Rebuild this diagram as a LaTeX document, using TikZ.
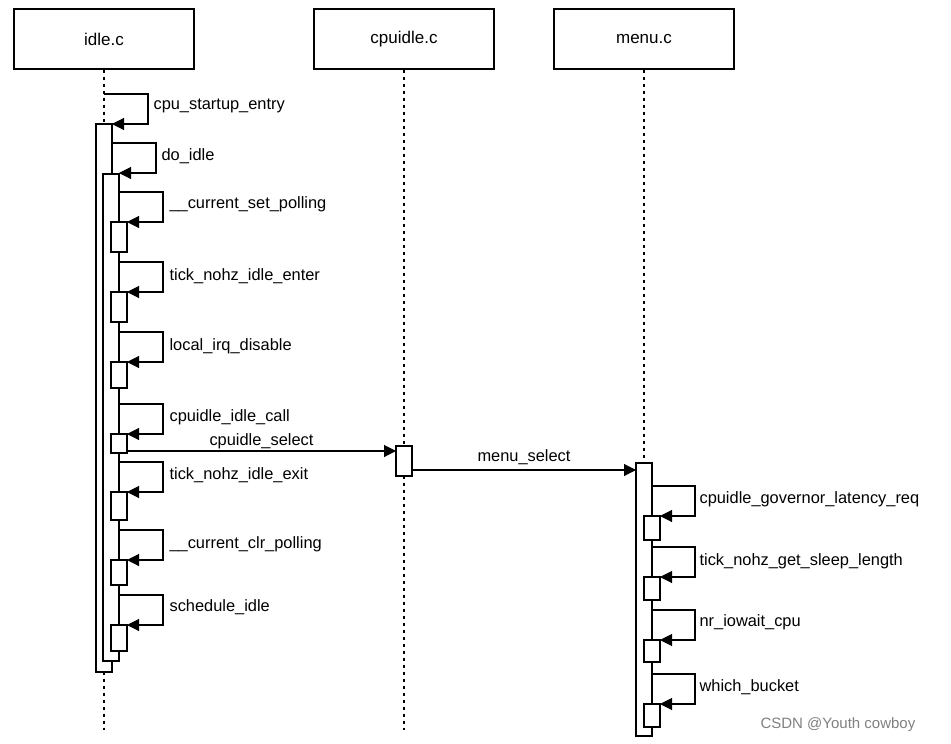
\documentclass[tikz,border=0pt]{standalone}
\usepackage{fontspec}
\setmainfont{Liberation Sans}
\usetikzlibrary{arrows.meta}
\begin{document}
\begin{tikzpicture}[x=1pt,y=-1pt,line width=1.1pt,
  hdr/.style={draw,minimum width=180pt,minimum height=60pt,inner sep=0pt,font=\fontsize{17}{20}\selectfont},
  bar/.style={draw,fill=white},
  life/.style={dash pattern=on 3pt off 4pt},
  msg/.style={-{Triangle[length=12pt,width=12pt]}},
  lbl/.style={anchor=west,inner sep=0pt,font=\fontsize{16.4}{19}\selectfont},
  clbl/.style={anchor=south,inner sep=1pt,font=\fontsize{16.4}{19}\selectfont}]
\useasboundingbox (0,0) rectangle (951,744);
\node[hdr] (h1) at (104,39) {idle.c};
\node[hdr] (h2) at (404,39) {cpuidle.c};
\node[hdr] (h3) at (644,39) {menu.c};
\draw[life] (h1.south) -- (104,730);
\draw[life] (h2.south) -- (404,730);
\draw[life] (h3.south) -- (644,736);
% idle bars
\draw[bar] (96,124) rectangle (112,672);
\draw[bar] (103,174) rectangle (119,661);
\coordinate (a0) at (112,124);
\draw[msg] (104,94) -| (148,124) -- (a0);
\node[lbl] (l0) at (153,106) {cpu\_startup\_entry};
\coordinate (a1) at (119,173);
\draw[msg] (112,143) -| (156,173) -- (a1);
\node[lbl] (l1) at (161,156) {do\_idle};
\foreach \t/\b/\ly/\txt [count=\i] in {222/252/204/\_\_current\_set\_polling, 292/322/276/tick\_nohz\_idle\_enter, 362/388/346/local\_irq\_disable, 434/453/417/cpuidle\_idle\_call, 492/520/475/tick\_nohz\_idle\_exit, 560/585/544/\_\_current\_clr\_polling, 625/651/607/schedule\_idle}{
  \draw[bar] (111,\t) rectangle (127,\b);
  \coordinate (s\i) at (127,\t);
  \draw[msg] (119,\t-30) -| (163,\t) -- (s\i);
  \node[lbl] (sl\i) at (169,\ly) {\txt};
}
% cpuidle
\draw[bar] (396,446) rectangle (412,476);
\coordinate (c1) at (127,451);
\coordinate (c2) at (396,451);
\draw[msg] (c1) -- node[clbl,yshift=1pt] (cl) {cpuidle\_select} (c2);
% menu
\draw[bar] (636,463) rectangle (652,736);
\coordinate (m1) at (412,470);
\coordinate (m2) at (636,470);
\draw[msg] (m1) -- node[clbl,yshift=4pt] (ml) {menu\_select} (m2);
\foreach \t/\b/\ly/\txt [count=\i] in {516/540/499/cpuidle\_governor\_latency\_req, 577/600/561/tick\_nohz\_get\_sleep\_length, 640/662/622/nr\_iowait\_cpu, 704/727/687/which\_bucket}{
  \draw[bar] (644,\t) rectangle (660,\b);
  \coordinate (t\i) at (660,\t);
  \draw[msg] (652,\t-30) -| (695,\t) -- (t\i);
  \node[lbl] (tl\i) at (699,\ly) {\txt};
}
\node[lbl,text=gray,font=\fontsize{15}{17}\selectfont] (wm) at (760,725) {CSDN @Youth cowboy};
\end{tikzpicture}
\end{document}
